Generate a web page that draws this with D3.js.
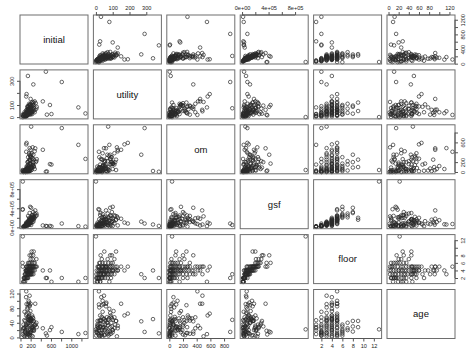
<!DOCTYPE html>
<html><head><meta charset="utf-8">
<script src="https://cdn.jsdelivr.net/npm/d3@7"></script>
<style>body{margin:0;background:#fff}svg{display:block}</style>
</head><body>
<svg id="chart" width="474" height="356"></svg>
<script>
const varNames = ["initial","utility","om","gsf","floor","age"];
const initial = [1280,1140,813,610,500,146,253,440,580,520,45,210,113,120,113,180,60,75,90,55,80,95,110,70,130,150,100,120,65,140,120,140,160,175,100,130,190,85,210,155,230,95,170,145,200,150,165,180,135,195,170,190,205,160,220,240,120,140,255,100,175,215,280,130,185,110,160,200,180,230,250,175,195,145,300,220,265,125,185,240,155,210,320,45,290,190,230,260,170,280,40,150,313,240,200,210,180,250,260,220];
const utility = [30,80,290,25,375,340,270,130,100,20,0,73,170,190,18,48,8,25,5,12,40,10,55,18,15,70,35,8,2,90,45,20,85,30,12,60,40,22,95,28,50,3,110,50,72,18,62,35,80,105,25,78,48,55,120,65,15,42,100,5,68,30,130,38,92,32,40,150,60,88,45,100,20,65,115,40,75,10,52,125,35,58,85,15,60,100,25,55,75,40,20,90,70,110,35,85,28,95,120,50];
const om = [265,550,890,150,5,20,350,450,160,10,40,920,560,590,410,484,20,10,30,0,25,40,60,5,80,15,0,110,0,200,35,70,150,20,5,90,250,10,300,45,130,0,380,200,60,100,60,250,30,170,15,330,80,220,40,280,5,130,190,20,350,90,420,0,160,60,120,450,20,270,140,60,300,10,200,380,100,40,230,500,80,150,260,30,480,170,90,120,40,60,15,300,220,150,30,350,90,200,250,100];
const gsf = [15000,25000,80000,20000,30000,60000,120000,40000,30000,25000,960000,50000,100000,80000,70000,60000,12000,15000,18000,10000,25000,30000,35000,20000,40000,45000,28000,50000,22000,38000,55000,65000,60000,80000,40000,70000,90000,35000,110000,75000,100000,45000,85000,60000,95000,90000,110000,120000,80000,130000,100000,140000,150000,95000,160000,170000,70000,85000,180000,60000,115000,145000,200000,75000,125000,65000,150000,180000,160000,200000,220000,140000,170000,120000,240000,190000,210000,100000,165000,230000,130000,175000,250000,380000,355000,430000,260000,220000,200000,280000,370000,240000,290000,250000,210000,410000,300000,320000,160000,200000];
const floor = [2,1,2,1,2,4,3,4,4,2,13,3,4,5,5,3,1,1,1,1,2,2,2,2,2,2,2,2,2,2,3,3,3,3,3,3,3,3,3,3,3,3,3,3,3,4,4,4,4,4,4,4,4,4,4,4,4,4,4,4,4,4,4,4,4,4,5,5,5,5,5,5,5,5,5,5,5,5,5,5,5,5,5,5,5,6,6,6,6,6,6,6,7,7,7,8,8,8,9,9];
const age = [12,9,15,28,11,50,44,25,20,5,22,48,60,65,126,114,35,47,19,25,70,45,35,26,19,15,8,30,5,55,91,82,67,46,30,25,12,3,52,38,20,14,55,8,33,90,95,88,78,72,60,52,50,48,45,55,35,28,20,15,10,5,32,2,40,110,100,92,85,60,52,48,46,40,35,25,18,12,6,3,56,45,28,8,92,14,30,22,5,35,18,10,40,25,20,16,45,30,45,28];

const tickValues = {
  initial:[0,200,400,600,800,1000,1200],
  utility:[0,100,200,300],
  om:[0,200,400,600,800],
  gsf:[0,200000,400000,600000,800000],
  floor:[2,4,6,8,10,12],
  age:[0,20,40,60,80,100,120]
};
const colTickLabels = {
  initial:["0","200","","600","","1000",""],
  utility:["0","100","200","300"],
  om:["0","200","400","600","800"],
  gsf:["0e+00","","4e+05","","8e+05"],
  floor:["2","4","6","8","10","12"],
  age:["0","20","40","60","80","","120"]
};
const rowTickLabels = {
  initial:["0","","400","","800","","1200"],
  utility:["0","100","","300"],
  om:["0","200","","600",""],
  gsf:["0e+00","","4e+05","","8e+05"],
  floor:["2","4","6","8","","12"],
  age:["0","","40","","80","","120"]
};

const data = {initial, utility, om, gsf, floor, age};
const nVars = varNames.length;
const padL = 20, padT = 15, pw = 68, ph = 49, stepX = 73.4, stepY = 54.9;
const svg = d3.select("#chart");
const FONT = "'Liberation Sans', Arial, Helvetica, sans-serif";

function paddedDomain(arr){
  const [a,b] = d3.extent(arr); const r = b - a;
  return [a - 0.04*r, b + 0.04*r];
}
const xScales = varNames.map((v,j)=> d3.scaleLinear().domain(paddedDomain(data[v])).range([padL+j*stepX, padL+j*stepX+pw]));
const yScales = varNames.map((v,i)=> d3.scaleLinear().domain(paddedDomain(data[v])).range([padT+i*stepY+ph, padT+i*stepY]));

const N = initial.length;
for(let i=0;i<nVars;i++){
  for(let j=0;j<nVars;j++){
    const x0 = padL+j*stepX, y0 = padT+i*stepY;
    const g = svg.append("g");
    if(i===j){
      g.append("text").attr("x", x0+pw/2).attr("y", y0+ph/2).attr("dy","0.35em")
        .attr("text-anchor","middle").attr("font-family",FONT).attr("font-size","9.5px")
        .attr("fill","#111").text(varNames[i]);
    } else {
      const xs = xScales[j], ys = yScales[i];
      const xv = data[varNames[j]], yv = data[varNames[i]];
      g.selectAll("circle").data(d3.range(N)).join("circle")
        .attr("cx", k=>xs(xv[k])).attr("cy", k=>ys(yv[k])).attr("r",1.8)
        .attr("fill","none").attr("stroke","#2a2a2a").attr("stroke-width",0.7);
    }
    g.append("rect").attr("x",x0).attr("y",y0).attr("width",pw).attr("height",ph)
      .attr("fill","none").attr("stroke","#6e6e6e").attr("stroke-width",1);
  }
}

function styleAxis(ax){
  ax.select(".domain").attr("stroke","#555");
  ax.selectAll(".tick line").attr("stroke","#555");
  ax.selectAll("text").attr("font-family",FONT).attr("font-size","5.6px").attr("fill","#222");
}

varNames.forEach((v,j)=>{
  const vals = tickValues[v], labs = colTickLabels[v];
  const s = xScales[j];
  const bottom = (j%2===0);
  const axis = (bottom? d3.axisBottom(s) : d3.axisTop(s))
    .tickValues(vals).tickSize(3).tickPadding(2.5)
    .tickFormat((d,k)=>labs[k]);
  const yPos = bottom ? padT+(nVars-1)*stepY+ph : padT;
  const ax = svg.append("g").attr("transform",`translate(0,${yPos})`).call(axis);
  ax.select(".domain").attr("d", `M${s(vals[0])},0H${s(vals[vals.length-1])}`);
  styleAxis(ax);
});

varNames.forEach((v,i)=>{
  const vals = tickValues[v], labs = rowTickLabels[v];
  const s = yScales[i];
  const leftSide = (i%2===1);
  const axis = (leftSide? d3.axisLeft(s) : d3.axisRight(s))
    .tickValues(vals).tickSize(3).tickPadding(2)
    .tickFormat((d,k)=>labs[k]);
  const xPos = leftSide ? padL : padL+(nVars-1)*stepX+pw;
  const ax = svg.append("g").attr("transform",`translate(${xPos},0)`).call(axis);
  ax.select(".domain").attr("d", `M0,${s(vals[0])}V${s(vals[vals.length-1])}`);
  ax.selectAll(".tick text")
    .attr("x",0).attr("dy",null)
    .attr("y", leftSide ? -6 : 10)
    .attr("transform","rotate(-90)")
    .attr("text-anchor","middle");
  styleAxis(ax);
});
</script>
</body></html>
